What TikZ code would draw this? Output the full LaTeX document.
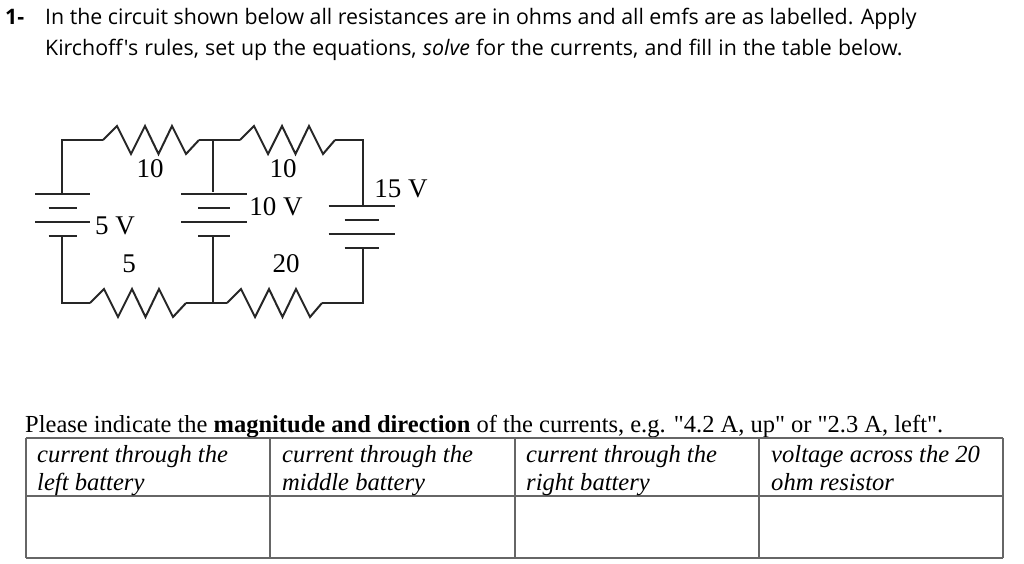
\documentclass[tikz,border=0pt]{standalone}
\usepackage{fontspec}
\setmainfont{Liberation Serif}
\newfontfamily\headfont{Open Sans}
\newfontfamily\quotefont{Liberation Serif}
\usepackage{tikz}
\usetikzlibrary{positioning}

\tikzset{
	wire/.style={line width=2pt, black!85},
	rule/.style={line width=1.1pt, black!60},
	lbl/.style={inner sep=0pt, font=\fontsize{27}{27}\selectfont},
	head/.style={inner sep=0pt, anchor=base west, font=\headfont\fontsize{21.35}{21.35}\selectfont},
	cell/.style={inner sep=0pt, anchor=base west, font=\fontsize{24.6}{24.6}\selectfont\itshape}
}

\newcommand{\zigzag}[3]{%
	\draw [wire] (#1) -- ++(14,#3) -- ++(14,-#3-#3) -- ++(14,#3+#3) -- ++(13.5,-#3-#3) -- ++(13.5,#3+#3) -- ++(14,-#3-#3) -- (#2);
}
\newcommand{\qt}{{\quotefont"}}

\begin{document}
\begin{tikzpicture}[x=1pt, y=-1pt]
	\useasboundingbox (0,0) rectangle (1024,563);

	% heading
	\node [head, font=\headfont\bfseries\fontsize{21.35}{21.35}\selectfont] (num) at (5,24) {1-};
	\node [head] (line1) at (45,24) {In the circuit shown below all resistances are in ohms and all emfs are as labelled. Apply};
	\node [head] (line2) at (45,55.5) {\spaceskip=6.2pt Kirchoff's rules, set up the equations, \textit{solve} for the currents, and fill in the table below.};

	% corners of the circuit
	\coordinate (tl) at (62,140);
	\coordinate (tm) at (213,140);
	\coordinate (tr) at (363,140);
	\coordinate (bl) at (62,303);
	\coordinate (bm) at (213,303);
	\coordinate (br) at (363,303);

	% resistor ends
	\coordinate (r1a) at (103,140);
	\coordinate (r1b) at (199,140);
	\coordinate (r2a) at (240,140);
	\coordinate (r2b) at (335,140);
	\coordinate (r3a) at (90,303);
	\coordinate (r3b) at (186,303);
	\coordinate (r4a) at (227,303);
	\coordinate (r4b) at (322,303);

	% battery ends
	\coordinate (b1a) at (62,194);
	\coordinate (b1b) at (62,236);
	\coordinate (b2a) at (213,192);
	\coordinate (b2b) at (213,236);
	\coordinate (b3a) at (363,206);
	\coordinate (b3b) at (363,249);

	\zigzag{r1a}{r1b}{-14}
	\zigzag{r2a}{r2b}{-14}
	\zigzag{r3a}{r3b}{-14}
	\zigzag{r4a}{r4b}{-14}

	\draw [wire] (b1a) -- (tl) -- (r1a);
	\draw [wire] (r1b) -- (r2a);
	\draw [wire] (r2b) -- (tr) -- (b3a);
	\draw [wire] (b1b) -- (bl) -- (r3a);
	\draw [wire] (r3b) -- (r4a);
	\draw [wire] (r4b) -- (br) -- (b3b);
	\draw [wire] (tm) -- (b2a);
	\draw [wire] (bm) -- (b2b);

	% battery plates
	\foreach \x/\y/\w/\s in {62.5/194/27.5/14, 214/194/33/16, 361.5/206/33/17} {
		\draw [wire] (\x-\w,\y) -- (\x+\w,\y);
		\draw [wire] (\x-\s,\y+14) -- (\x+\s,\y+14);
		\draw [wire] (\x-\w,\y+27.5) -- (\x+\w,\y+27.5);
		\draw [wire] (\x-\s,\y+41.5) -- (\x+\s,\y+41.5);
	}

	% labels
	\node [lbl] (l1) at (150,169) {10};
	\node [lbl] (l2) at (283,169) {10};
	\node [lbl] (l3) at (115,226) {5 V};
	\node [lbl] (l4) at (276,207) {10 V};
	\node [lbl] (l5) at (401,189) {15 V};
	\node [lbl] (l6) at (129,264) {5};
	\node [lbl] (l7) at (286,264) {20};

	% table
	\node [inner sep=0pt, anchor=base west, font=\fontsize{24.5}{24.5}\selectfont] (please) at (25,432) {Please indicate the \textbf{magnitude and direction} of the currents, e.g. \qt 4.2 A, up\qt{} or \qt 2.3 A, left\qt .};
	\foreach \x in {26,270,515,759,1003} {
		\draw [rule] (\x,438) -- (\x,558);
	}
	\foreach \y in {438,496,558} {
		\draw [rule] (26,\y) -- (1003,\y);
	}
	\node [cell] (c1a) at (37,462) {current through the};
	\node [cell] (c1b) at (37,490) {left battery};
	\node [cell] (c2a) at (282,462) {current through the};
	\node [cell] (c2b) at (282,490) {middle battery};
	\node [cell] (c3a) at (526,462) {current through the};
	\node [cell] (c3b) at (526,490) {right battery};
	\node [cell] (c4a) at (771,462) {voltage across the 20};
	\node [cell] (c4b) at (771,490) {ohm resistor};
\end{tikzpicture}
\end{document}
